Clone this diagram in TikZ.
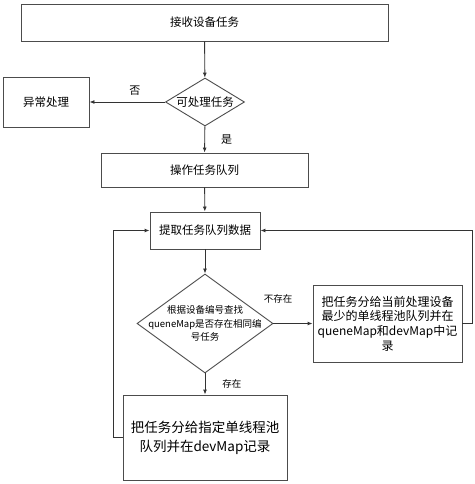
\documentclass[tikz,border=0pt]{standalone}
\usepackage{fontspec}
\setmainfont{Noto Sans CJK SC}
\usetikzlibrary{shapes.geometric,arrows.meta}

\begin{document}
\begin{tikzpicture}[x=1pt, y=-1pt,
  every node/.style = {align=center, inner sep=0pt},
  box/.style = {shape=rectangle, draw=black!70, line width=0.9pt,
    font=\fontsize{11.5}{14}\selectfont},
  decision/.style = {shape=diamond, draw=black!70, line width=0.9pt,
    inner xsep=-30pt, inner ysep=-12pt},
  tag/.style = {font=\fontsize{11}{13}\selectfont},
  flow/.style = {draw=black!80, line width=0.9pt, -{Latex[length=5pt,width=4pt]}}]
  \useasboundingbox (0,0) rectangle (474,484);
  \node[box, minimum width=367pt, minimum height=37pt] (recv) at (204.5,22.5) {接收设备任务};
  \node[decision, minimum width=79pt, minimum height=48pt,
    font=\fontsize{11.5}{14}\selectfont] (check) at (205,102) {可处理任务};
  \node[box, minimum width=86pt, minimum height=50pt] (error) at (46,102) {异常处理};
  \node[box, minimum width=207pt, minimum height=34pt] (queue) at (204.5,170) {操作任务队列};
  \node[box, minimum width=110pt, minimum height=37pt] (fetch) at (205,230.5) {提取任务队列数据};
  \node[decision, minimum width=136pt, minimum height=99pt,
    font=\fontsize{9.5}{13.5}\selectfont] (lookup) at (205,323.5)
    {根据设备编号查找\\queneMap是否存在相同编\\号任务};
  \node[box, minimum width=149pt, minimum height=77pt,
    font=\fontsize{12}{14.7}\selectfont] (assign) at (387.5,323.5)
    {把任务分给当前处理设备\\最少的单线程池队列并在\\queneMap和devMap中记\\录};
  \node[box, minimum width=164pt, minimum height=85pt,
    font=\fontsize{13.5}{19}\selectfont] (dispatch) at (205,437.5)
    {把任务分给指定单线程池\\队列并在devMap记录};
  \draw[flow] (recv) -- (check);
  \draw[flow] (check) -- (error) node[tag, pos=0.4, above=6pt] {否};
  \draw[flow] (check) -- (queue) node[tag, midway, right=16pt] {是};
  \draw[flow] (queue) -- (fetch);
  \draw[flow] (fetch) -- (lookup);
  \draw[flow] (lookup) -- (assign) node[tag, font=\fontsize{9.5}{12}\selectfont,
    pos=0.12, above=20pt] {不存在};
  \draw[flow] (lookup) -- (dispatch) node[tag, font=\fontsize{9.5}{12}\selectfont,
    midway, right=17pt] {存在};
  \draw[flow] (assign.east) -- ++(10pt,0) |- (fetch.east);
  \draw[flow] (dispatch.west) -- ++(-9pt,0) |- (fetch.west);
\end{tikzpicture}
\end{document}
